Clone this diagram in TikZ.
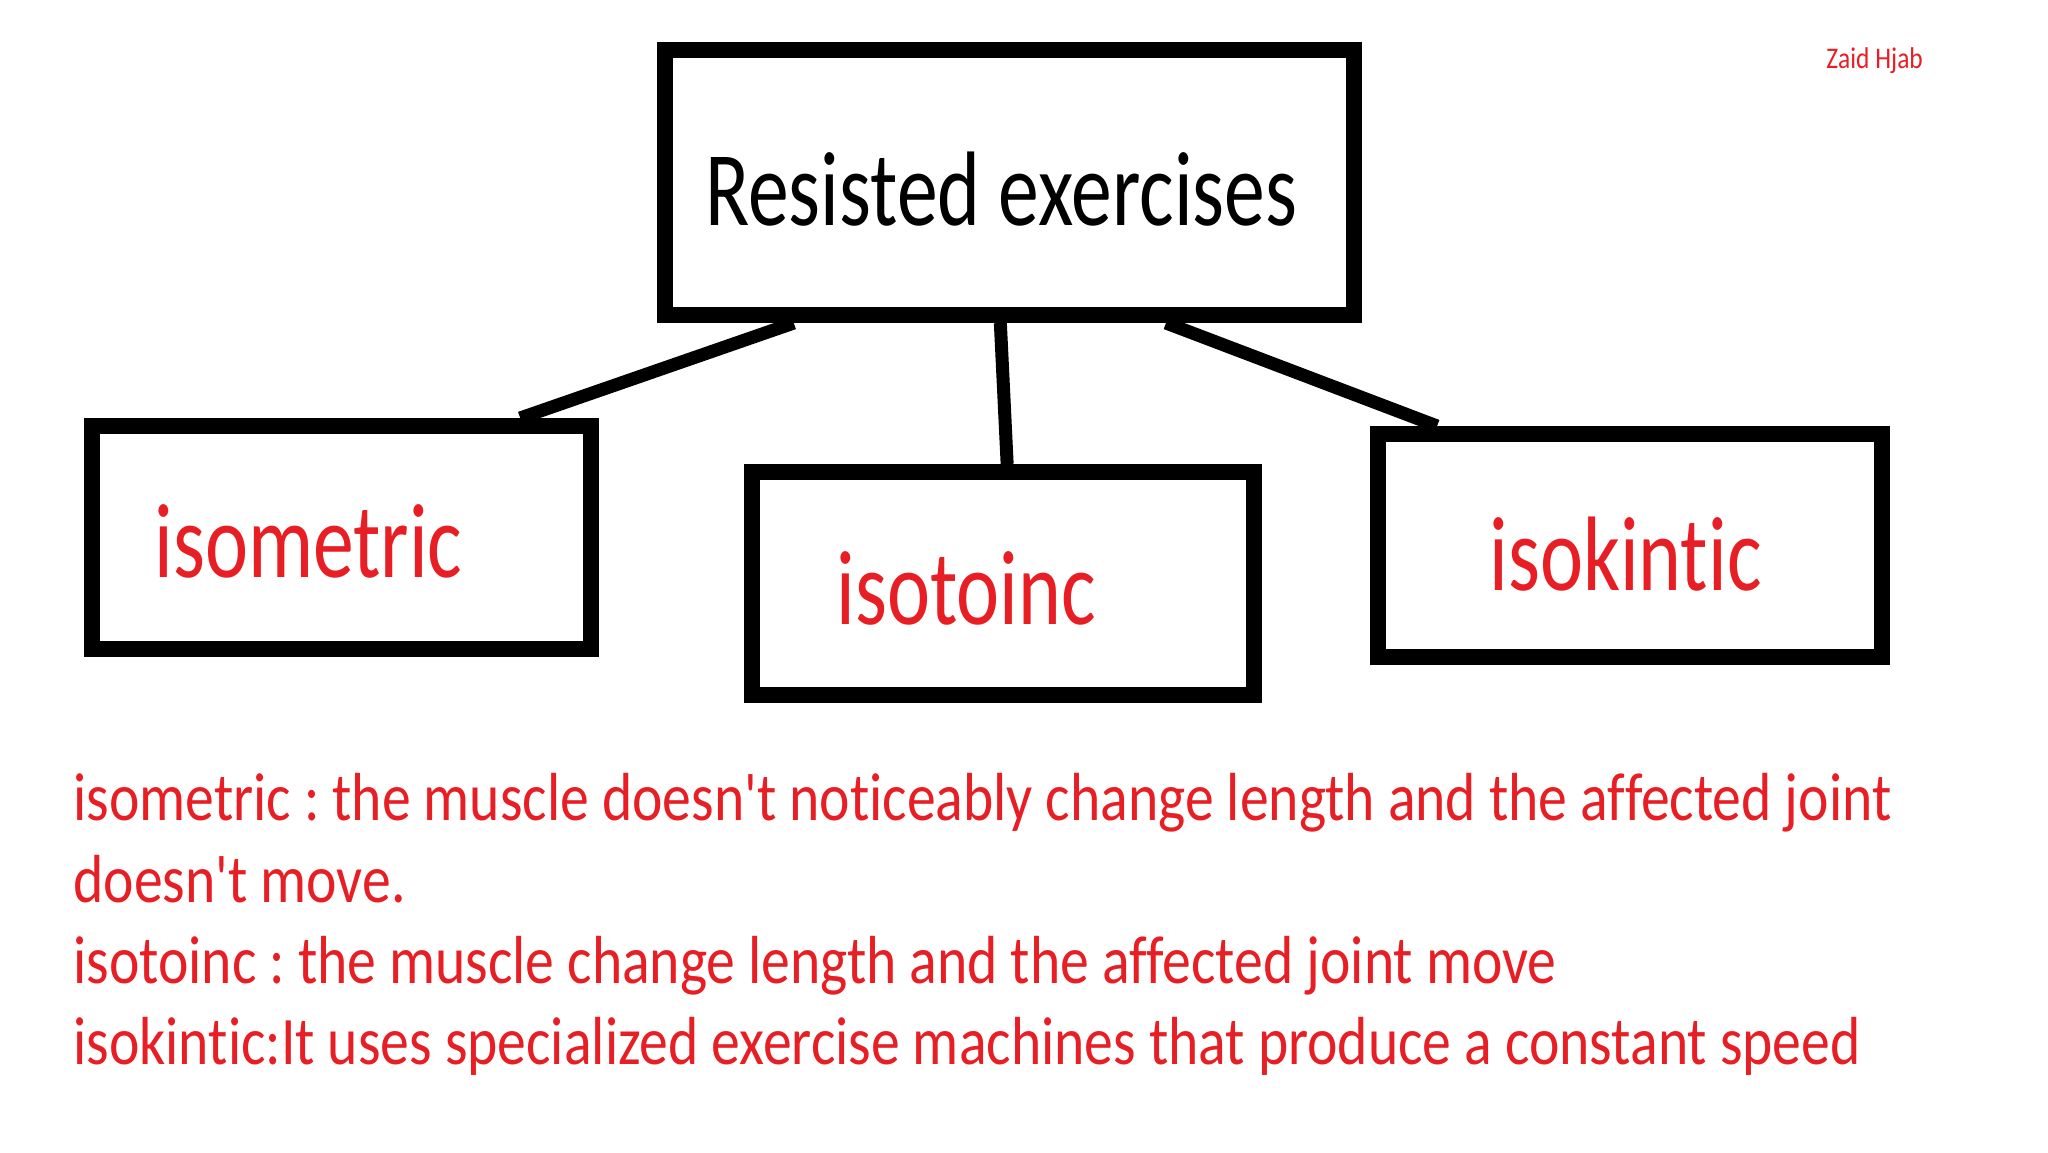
\documentclass[tikz,border=0pt]{standalone}
\usepackage{fontspec}
\setmainfont{Carlito}
\newfontfamily\narrow[FakeStretch=0.77,Ligatures=NoCommon]{Carlito}
\newfontfamily\plain[FakeStretch=0.848,Ligatures=NoCommon]{Carlito}
\usepackage{xcolor}
\usepackage{tikz}
\usetikzlibrary{calc}
\frenchspacing
\definecolor{Ink}{HTML}{000000}
\definecolor{Flag}{HTML}{E81E25}
\tikzset{
  box/.style={
    draw=Ink, line width=8pt, fill=white,
    minimum height=111.5pt, inner sep=0pt
  },
  head/.style={font=\narrow\fontsize{53}{60}\selectfont, color=Ink, anchor=base west, inner sep=0pt},
  kind/.style={head, color=Flag},
  link/.style={draw=Ink, line width=6.5pt},
  note/.style={font=\plain\fontsize{34}{40.6}\selectfont, color=Flag, align=left,
    anchor=base west, inner sep=0pt}
}
\begin{document}
\begin{tikzpicture}[x=1pt,y=-1pt]
  \useasboundingbox (0,0) rectangle (1024,576);
  % boxes
  \node[box,minimum width=344.5pt,minimum height=132.5pt] (res) at (504.75,91.25) {};
  \node[box,minimum width=249.5pt] (iso) at (170.75,268.75) {};
  \node[box,minimum width=251pt] (ton) at (501.5,291.75) {};
  \node[box,minimum width=252pt] (kin) at (815,272.75) {};
  % links
  \draw[link] ($(res.south west)!0.194!(res.south east)$) -- ($(iso.north west)!0.847!(iso.north east)$);
  \draw[link] ($(res.south west)!0.487!(res.south east)$) -- ($(ton.north west)!0.508!(ton.north east)$);
  \draw[link] ($(res.south west)!0.722!(res.south east)$) -- ($(kin.north west)!0.129!(kin.north east)$);
  % labels
  \node[head] (resT) at (352.5,112.5) {Resisted exercises};
  \node[kind] (isoT) at (77,288.5) {isometric};
  \node[kind] (tonT) at (418,312) {isotoinc};
  \node[kind] (kinT) at (744.5,295) {isokintic};
  \node[font=\plain\fontsize{15}{18}\selectfont,color=Flag,anchor=base west,inner sep=0pt] (sig) at (913,34) {Zaid Hjab};
  % definitions (base = last line)
  \node[note] (defs) at (36.5,532.2) {isometric : the muscle doesn't noticeably change length and the affected joint\\
    doesn't move.\\
    isotoinc : the muscle change length and the affected joint move\\
    isokintic:It uses specialized exercise machines that produce a constant speed};
\end{tikzpicture}
\end{document}
